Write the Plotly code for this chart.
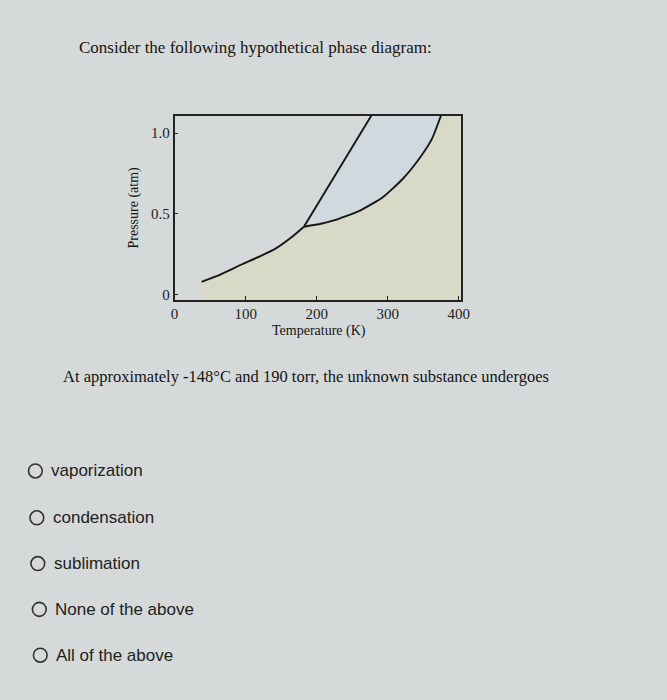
import plotly.graph_objects as go

# phase boundaries (T in K, P in atm)
sub_T = [38, 60, 95, 120, 142, 165, 182]
sub_P = [0.078, 0.115, 0.187, 0.236, 0.284, 0.356, 0.42]

vap_T = [182, 206, 224, 261, 293, 321, 344, 362, 375]
vap_P = [0.42, 0.438, 0.459, 0.52, 0.603, 0.716, 0.84, 0.963, 1.11]

melt_T = [182, 277]
melt_P = [0.42, 1.11]

x_ticks = [0, 100, 200, 300, 400]
y_ticks = [0, 0.5, 1.0]
y_tick_text = ["0", "0.5", "1.0"]

options = ["vaporization", "condensation", "sublimation", "None of the above", "All of the above"]

W, H = 667, 700
X_MAX, Y_MIN, Y_MAX = 403, -0.033, 1.11
BG = "#d5d9d9"


def px(x):
    return x / W


def py(y):
    return 1 - y / H


fig = go.Figure()

# gas region (below sublimation + vaporization curves)
gas_T = [sub_T[0]] + sub_T + vap_T[1:] + [X_MAX, X_MAX]
gas_P = [Y_MIN] + sub_P + vap_P[1:] + [Y_MAX, Y_MIN]
fig.add_trace(go.Scatter(x=gas_T, y=gas_P, fill="toself", fillcolor="#d9d9c8",
                         line=dict(width=0, shape="spline", smoothing=0.3),
                         mode="lines", hoverinfo="skip"))

# liquid region (between melting line and vaporization curve)
liq_T = melt_T + vap_T[::-1]
liq_P = melt_P + vap_P[::-1]
fig.add_trace(go.Scatter(x=liq_T, y=liq_P, fill="toself", fillcolor="#cfd9de",
                         line=dict(width=0), mode="lines", hoverinfo="skip"))

for xs, ys in [(sub_T, sub_P), (vap_T, vap_P), (melt_T, melt_P)]:
    fig.add_trace(go.Scatter(x=xs, y=ys, mode="lines",
                             line=dict(color="#161616", width=1.9, shape="spline", smoothing=0.5)))

axis_font = dict(family="Liberation Serif", size=15, color="#1e1e1e")
fig.update_xaxes(range=[0, X_MAX], domain=[px(174), px(466)], tickvals=x_ticks,
                 ticks="inside", ticklen=4, tickcolor="#222", showgrid=False, zeroline=False,
                 showline=True, mirror=True, linecolor="#222", linewidth=1.5,
                 tickfont=axis_font)
fig.update_yaxes(range=[Y_MIN, Y_MAX], domain=[py(301), py(116)], tickvals=y_ticks,
                 ticktext=y_tick_text, ticks="inside", ticklen=4, tickcolor="#222",
                 showgrid=False, zeroline=False, showline=True, mirror=True,
                 linecolor="#222", linewidth=1.5, tickfont=axis_font)

serif = dict(family="Liberation Serif", color="#141414")
sans = dict(family="Liberation Sans", size=17, color="#222")

annotations = [
    dict(x=px(74), y=py(48), text="Consider the following hypothetical phase diagram:",
         xanchor="left", font=dict(serif, size=17)),
    dict(x=px(133), y=py(208), text="Pressure (atm)", textangle=-90,
         xanchor="center", font=dict(serif, size=14)),
    dict(x=px(321), y=py(332), text="Temperature (K)", xanchor="center",
         font=dict(serif, size=14)),
    dict(x=px(58), y=py(378),
         text="At approximately -148°C and 190 torr, the unknown substance undergoes",
         xanchor="left", font=dict(serif, size=16.5)),
]

opt_y = [473, 520, 566, 612, 658]
circ_x = [32, 33.5, 34.5, 36, 37]
shapes = []
for label, yy, cx in zip(options, opt_y, circ_x):
    annotations.append(dict(x=px(cx + 14), y=py(yy), text=label, xanchor="left", font=sans))
    shapes.append(dict(type="circle", xref="paper", yref="paper",
                       x0=px(cx - 7), x1=px(cx + 7), y0=py(yy + 7), y1=py(yy - 7),
                       line=dict(color="#333", width=1.6)))

for a in annotations:
    a.update(xref="paper", yref="paper", yanchor="middle", showarrow=False)

fig.update_layout(width=W, height=H, margin=dict(l=0, r=0, t=0, b=0),
                  paper_bgcolor=BG, plot_bgcolor=BG,
                  showlegend=False, annotations=annotations, shapes=shapes)

# page has a default 8px body margin; drop it so the figure fills the window
fig.write_html("out.html", config={"displayModeBar": False},
               post_script=f"document.body.style.margin='0';document.body.style.background='{BG}';")
